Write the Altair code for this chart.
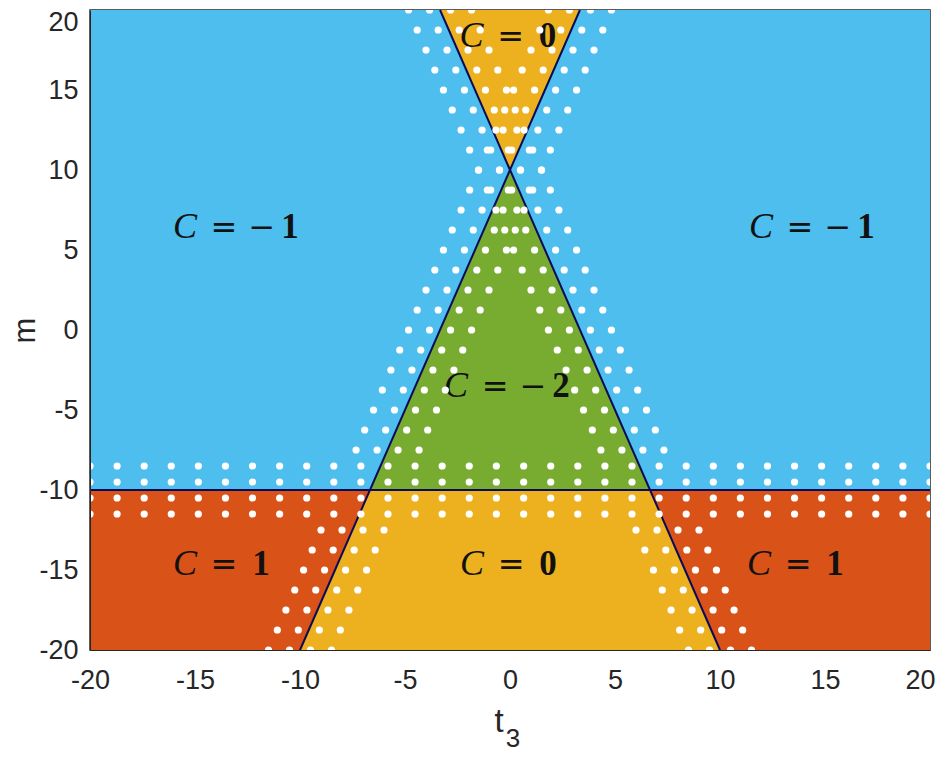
import altair as alt
import pandas as pd

# ---------------- data ----------------
# phase regions: background rectangles (t3 from, t3 to, m from, m to)
rect_name = ["C=-1", "C=1"]
rect_t3a = [-20, -20]
rect_t3b = [20, 20]
rect_ma = [-10, -20]
rect_mb = [20, -10]

# wedge regions as horizontal areas: (region, m, left t3, right t3)
wedge_region = ["C=-2", "C=-2", "C=0 top", "C=0 top", "C=0 bottom", "C=0 bottom"]
wedge_m = [-10, 10, 10, 20, -20, -10]
wedge_lo = [-6.67, 0, 0, -3.33, -10, -6.67]
wedge_hi = [6.67, 0, 0, 3.33, 10, 6.67]

# phase boundary lines (t3 start, m start, t3 end, m end)
line_t3a = [-10, 10, -20]
line_ma = [-20, -20, -10]
line_t3b = [3.33, -3.33, 20]
line_mb = [20, 20, -10]

# white sample dots along the diagonal boundaries: row m and left-line centre
diag_m = [-20, -18.75, -17.5, -16.25, -15, -13.75, -12.5,
          -7.5, -6.25, -5, -3.75, -2.5, -1.25, 0, 1.25, 2.5, 3.75, 5, 6.25,
          7.5, 8.75, 10, 11.25, 12.5, 13.75, 15, 16.25, 17.5, 18.75, 20]
diag_center = [-10, -9.58, -9.17, -8.75, -8.33, -7.92, -7.5,
               -5.83, -5.42, -5, -4.58, -4.17, -3.75, -3.33, -2.92, -2.5, -2.08, -1.67, -1.25,
               -0.83, -0.42, 0, 0.42, 0.83, 1.25, 1.67, 2.08, 2.5, 2.92, 3.33]
diag_offsets = [-1.5, -0.5, 0.5, 1.5]

# white sample dots along the horizontal boundary m = -10
band_m = [-8.5, -9.5, -10.5, -11.5]
band_t3 = [-20, -18.71, -17.42, -16.13, -14.84, -13.55, -12.26, -10.97, -9.68, -8.39,
           -7.10, -5.81, -4.52, -3.23, -1.94, -0.65, 0.65, 1.94, 3.23, 4.52, 5.81,
           7.10, 8.39, 9.68, 10.97, 12.26, 13.55, 14.84, 16.13, 17.42, 18.71, 20]

# Chern-number labels: anchor (centre of the C, baseline) and value
label_t3 = [-15.48, 11.95, -2.57, -1.83, -1.81, -15.48, 11.86]
label_m = [5.78, 5.78, -4.17, 17.71, -15.31, -15.31, -15.31]
label_val = ["-1", "-1", "-2", "0", "0", "1", "1"]

x_ticks = [-20, -15, -10, -5, 0, 5, 10, 15, 20]
y_ticks = [-20, -15, -10, -5, 0, 5, 10, 15, 20]

region_names = ["C=-1", "C=1", "C=-2", "C=0 top", "C=0 bottom"]
region_colors = ["#4DBEEE", "#D95319", "#77AC30", "#EDB120", "#EDB120"]

# ---------------- tables ----------------
rects = pd.DataFrame({"region": rect_name, "t3a": rect_t3a, "t3b": rect_t3b,
                      "ma": rect_ma, "mb": rect_mb})
wedges = pd.DataFrame({"region": wedge_region, "m": wedge_m, "lo": wedge_lo, "hi": wedge_hi})
lines = pd.DataFrame({"t3a": line_t3a, "ma": line_ma, "t3b": line_t3b, "mb": line_mb})

dot_rows = []
for m, c in zip(diag_m, diag_center):
    for centre in (c, -c):
        for off in diag_offsets:
            dot_rows.append({"t3": centre + off, "m": m})
for m in band_m:
    for t in band_t3:
        dot_rows.append({"t3": t, "m": m})
dots = pd.DataFrame(dot_rows)

c_rows, eq_rows, minus_rows, num_rows = [], [], [], []
for t, m, v in zip(label_t3, label_m, label_val):
    c_rows.append({"t3": t, "m": m, "txt": "C"})
    eq_rows.append({"t3": t + 1.86, "m": m, "txt": "="})
    if v.startswith("-"):
        minus_rows.append({"t3": t + 3.67, "m": m, "txt": "\u2212"})
        num_rows.append({"t3": t + 5.0, "m": m, "txt": v[1:]})
    else:
        num_rows.append({"t3": t + 3.62, "m": m, "txt": v})

xscale = alt.Scale(domain=[-20, 20], nice=False, zero=False)
yscale = alt.Scale(domain=[-20, 20], nice=False, zero=False)
cscale = alt.Scale(domain=region_names, range=region_colors)

xaxis = alt.Axis(values=x_ticks, labelExpr="toString(datum.value)", title=None,
                 ticks=False, grid=False, labelFontSize=27, labelFont="Liberation Sans",
                 labelPadding=17, labelFlush=False, labelColor="#262626",
                 labelOffset={"condition": {"test": "datum.value == 20", "value": -10}, "value": 0},
                 domainColor="#262626", zindex=1)
yaxis = alt.Axis(values=y_ticks, labelExpr="toString(datum.value)", title="m",
                 ticks=False, grid=False, labelFontSize=27, labelFont="Liberation Sans",
                 labelPadding=12, labelFlush=False, labelColor="#262626",
                 labelOffset={"condition": {"test": "datum.value == 20", "value": 12}, "value": 0},
                 domainColor="#262626",
                 titleFontSize=31, titleFont="Liberation Sans", titleFontWeight="normal",
                 titleColor="#262626", titlePadding=-3, zindex=1)

bg = alt.Chart(rects).mark_rect().encode(
    x=alt.X("t3a:Q", scale=xscale, axis=xaxis),
    x2="t3b:Q",
    y=alt.Y("ma:Q", scale=yscale, axis=yaxis),
    y2="mb:Q",
    color=alt.Color("region:N", scale=cscale, legend=None),
)

wedge = alt.Chart(wedges).mark_area(orient="horizontal").encode(
    y=alt.Y("m:Q", scale=yscale),
    x=alt.X("lo:Q", scale=xscale),
    x2="hi:Q",
    color=alt.Color("region:N", scale=cscale, legend=None),
    detail="region:N",
)

rules = alt.Chart(lines).mark_rule(color="#0A0A5A", strokeWidth=2).encode(
    x=alt.X("t3a:Q", scale=xscale), x2="t3b:Q",
    y=alt.Y("ma:Q", scale=yscale), y2="mb:Q",
)

def txt_layer(rows, font, size, style="normal", weight="normal"):
    return alt.Chart(pd.DataFrame(rows)).mark_text(
        font=font, fontSize=size, fontStyle=style, fontWeight=weight,
        align="center", baseline="alphabetic", color="#111111",
    ).encode(x=alt.X("t3:Q", scale=xscale), y=alt.Y("m:Q", scale=yscale), text="txt:N")

t_c = txt_layer(c_rows, "Liberation Serif", 36, style="italic")
t_eq = txt_layer(eq_rows, "DejaVu Sans", 32)
t_minus = txt_layer(minus_rows, "DejaVu Sans", 32)
t_num = txt_layer(num_rows, "Liberation Serif", 35, weight="bold")

pts = alt.Chart(dots).mark_circle(color="white", opacity=1, size=52, clip=True).encode(
    x=alt.X("t3:Q", scale=xscale), y=alt.Y("m:Q", scale=yscale),
)

xt = alt.Chart(pd.DataFrame({"a": [0]})).mark_text(
    text="t", font="Liberation Sans", fontSize=33, align="center", baseline="alphabetic",
    color="#262626").encode(x=alt.value(409), y=alt.value(722))
xs = alt.Chart(pd.DataFrame({"a": [0]})).mark_text(
    text="3", font="Liberation Sans", fontSize=26, align="center", baseline="alphabetic",
    color="#262626").encode(x=alt.value(423), y=alt.value(737))

chart = alt.layer(bg, wedge, rules, t_c, t_eq, t_minus, t_num, pts, xt, xs).properties(
    width=840, height=640,
    padding={"left": 82, "top": 2, "right": 7, "bottom": 105},
    autosize=alt.AutoSizeParams(type="none"),
).configure_view(stroke="#262626", strokeWidth=1.5)

chart.save("out.html", embed_options={"renderer": "svg", "actions": False})
